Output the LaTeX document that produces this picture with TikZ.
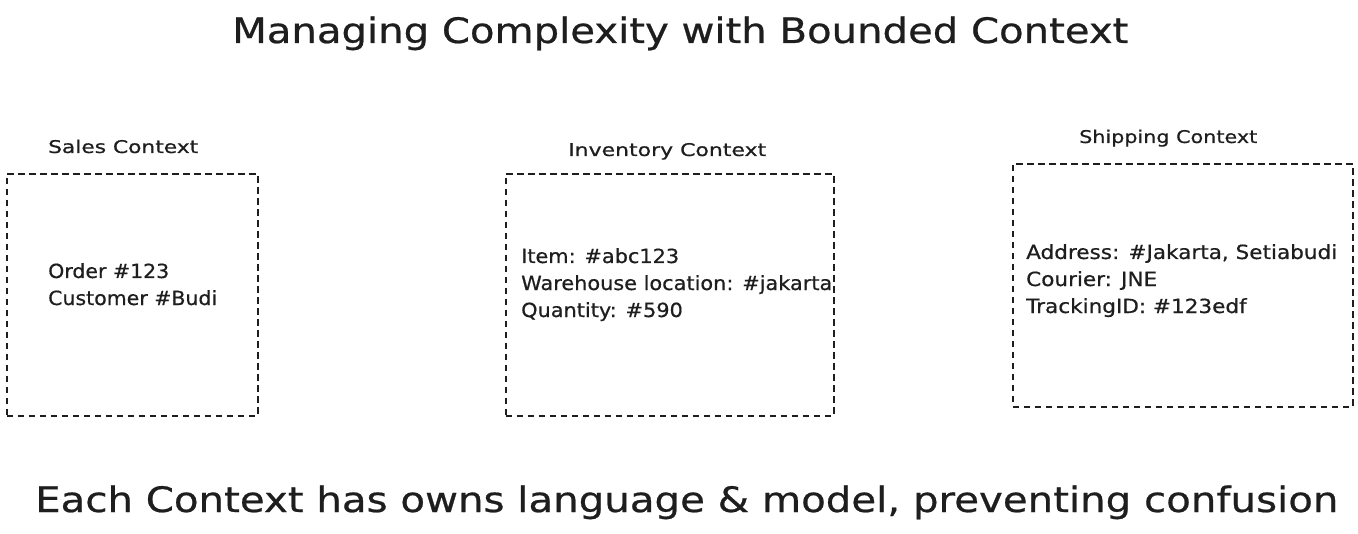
\documentclass[tikz,border=0pt]{standalone}
\usepackage{fontspec}
\setmainfont{DejaVu Sans}[FakeBold=0.6]
\usepackage{graphicx}
\definecolor{ink}{HTML}{1E1E1E}
\newcommand{\fitline}[2]{\resizebox{#1pt}{\height}{#2}}
\newcommand{\fitblock}[2]{\resizebox{#1pt}{\height}{\begin{tabular}[t]{@{}l@{}}#2\end{tabular}}}
\begin{document}
\begin{tikzpicture}[x=1pt,y=-1pt,
  ctxbox/.style={draw=ink, line width=1.8pt, dash pattern=on 6.5pt off 4.5pt, inner sep=0pt, anchor=north west},
  txt/.style={inner sep=0pt, anchor=base west, text=ink},
  ttl/.style={txt, font=\fontsize{35}{40}\selectfont},
  lbl/.style={txt, font=\fontsize{17.5}{20}\selectfont},
  body/.style={txt, font=\fontsize{19.5}{27}\selectfont}]
\useasboundingbox (0,0) rectangle (1358,534);
\fill[white] (0,0) rectangle (1358,534);

\node[ttl] (title) at (232,43) {\fitline{896}{Managing Complexity with Bounded Context}};

\node[ctxbox, minimum width=251pt, minimum height=242pt] (sales) at (6,173) {};
\node[ctxbox, minimum width=328pt, minimum height=242pt] (inv) at (505,173) {};
\node[ctxbox, minimum width=340pt, minimum height=243pt] (ship) at (1012,163) {};

\node[lbl] (saleslbl) at (48,153) {\fitline{150}{Sales Context}};
\node[lbl] (invlbl) at (568,156) {\fitline{198}{Inventory Context}};
\node[lbl] (shiplbl) at (1079,143) {\fitline{178}{Shipping Context}};

\node[body] (salestxt) at (48,278) {\fitblock{169}{Order \#123\\Customer \#Budi}};
\node[body] (invtxt) at (521,263) {\fitblock{311}{Item: \#abc123\\Warehouse location: \#jakarta\\Quantity: \#590}};
\node[body] (shiptxt) at (1026,259) {\fitblock{311}{Address: \#Jakarta, Setiabudi\\Courier: JNE\\TrackingID: \#123edf}};

\node[ttl] (footer) at (35,512) {\fitline{1303}{Each Context has owns language \& model, preventing confusion}};
\end{tikzpicture}
\end{document}
